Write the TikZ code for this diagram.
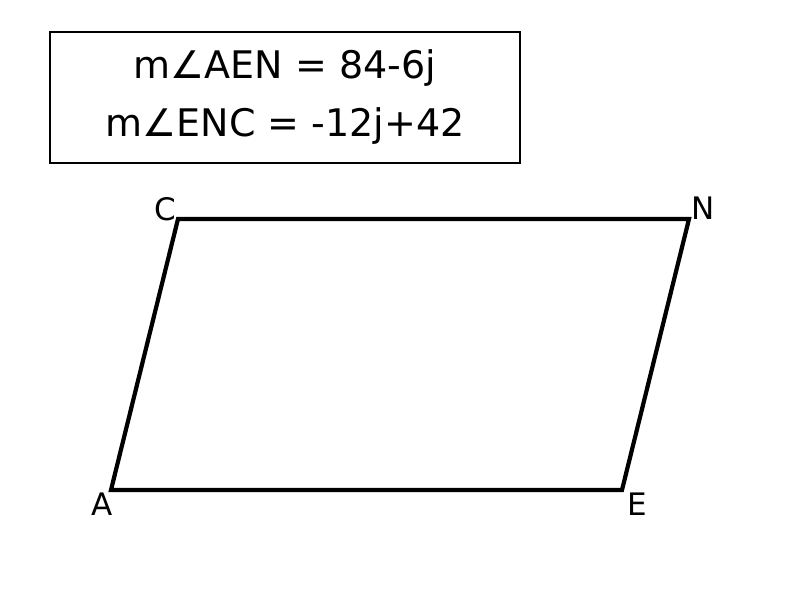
\documentclass[tikz,border=0pt]{standalone}
\usepackage{fontspec}
\setmainfont{DejaVu Sans}
\begin{document}
\begin{tikzpicture}[x=1bp,y=-1bp,
  edge/.style={line width=4.2bp,line join=miter},
  vlabel/.style={inner sep=0pt,font=\fontsize{31bp}{36bp}\selectfont},
  infobox/.style={draw,line width=1.2bp,minimum width=470bp,minimum height=131bp,align=center,font=\fontsize{38bp}{58bp}\selectfont}]
\useasboundingbox (0,0) rectangle (800,600);
\node[infobox] (box) at (285,97.5) {m∠AEN = 84-6j\\m∠ENC = -12j+42};
\coordinate (A) at (111,490);
\coordinate (C) at (178,219);
\coordinate (N) at (689,219);
\coordinate (E) at (622,490);
\draw[edge] (A) -- (C) -- (N) -- (E) -- cycle;
\node[vlabel] (lA) at (102,504) {A};
\node[vlabel] (lC) at (165,209) {C};
\node[vlabel] (lN) at (703,208) {N};
\node[vlabel] (lE) at (637,504) {E};
\end{tikzpicture}
\end{document}
